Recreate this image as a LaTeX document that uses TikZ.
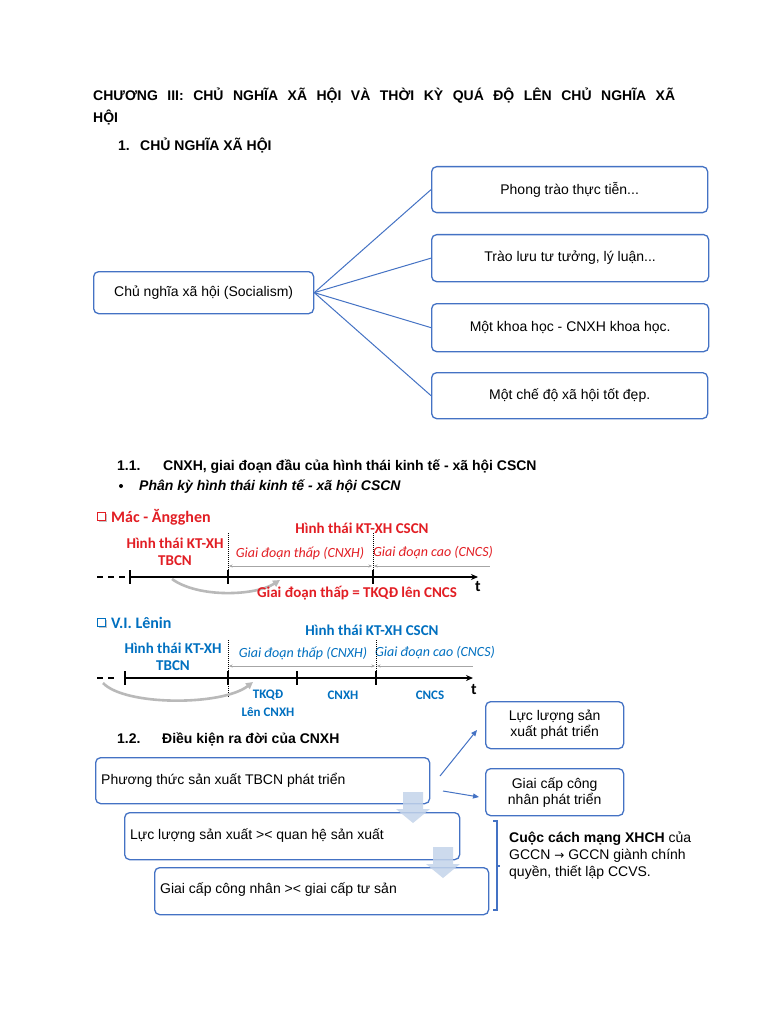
\documentclass[tikz,border=0pt]{standalone}
\usepackage{fontspec}
\setmainfont{Liberation Sans}
\newfontfamily\calfont{Carlito}
\usetikzlibrary{arrows.meta}
\definecolor{boxblue}{RGB}{68,114,196}
\definecolor{tred}{RGB}{226,30,36}
\definecolor{tblue}{RGB}{0,112,192}
\definecolor{arrowfill}{RGB}{196,212,234}
\newcommand{\fs}[1]{\fontsize{#1}{#1}\selectfont}
\newcommand{\fsl}[2]{\fontsize{#1}{#2}\selectfont}
\begin{document}
\begin{tikzpicture}[x=1pt,y=-1pt,
  box/.style={draw=boxblue, line width=1.3pt, rounded corners=5pt, inner sep=0pt, anchor=north west, align=center, font=\fs{14}},
  conn/.style={draw=boxblue, line width=1pt},
  arr/.style={draw=boxblue, line width=1pt, -{Triangle[length=6pt,width=5pt]}},
  head/.style={anchor=base west, font=\bfseries\fs{14}},
  body/.style={inner sep=0pt, font=\fs{14}},
  tl/.style={inner sep=0pt, font=\calfont\bfseries\fs{15}},
  tli/.style={inner sep=0pt, font=\calfont\itshape\fs{14}},
  tls/.style={inner sep=0pt, font=\calfont\bfseries\fs{13}, text=tblue},
  axis/.style={line width=1.8pt, black},
  tick/.style={line width=1.8pt, black},
  vdot/.style={line width=0.6pt, black, dash pattern=on 1pt off 1pt},
  gline/.style={line width=0.9pt, gray!70},
  curv/.style={line width=2.6pt, gray!55, -{Triangle[length=7pt,width=7pt]}},
  barrow/.style={fill=arrowfill, fill opacity=0.85, draw=none}
]
\useasboundingbox[fill=white] (0,0) rectangle (768,1024);

% ---------- Title ----------
\node[head, inner sep=0pt] (title1) at (93,101) {\makebox[582pt][s]{CHƯƠNG III: CHỦ NGHĨA XÃ HỘI VÀ THỜI KỲ QUÁ ĐỘ LÊN CHỦ NGHĨA XÃ}};
\node[head, inner sep=0pt] (title2) at (93,123) {HỘI};
\node[head, inner sep=0pt] (h1n) at (118,151) {1.};
\node[head, inner sep=0pt] (h1) at (140,151) {CHỦ NGHĨA XÃ HỘI};

% ---------- Section 1 diagram ----------
\node[box, minimum width=220pt, minimum height=42pt] (soc) at (93,271) {Chủ nghĩa xã hội (Socialism)};
\node[box, minimum width=276pt, minimum height=46pt] (r1) at (431,166) {Phong trào thực tiễn...};
\node[box, minimum width=277pt, minimum height=47pt] (r2) at (431,234) {Trào lưu tư tưởng, lý luận...};
\node[box, minimum width=277pt, minimum height=48pt] (r3) at (431,303) {Một khoa học - CNXH khoa học.};
\node[box, minimum width=276pt, minimum height=46pt] (r4) at (431,372) {Một chế độ xã hội tốt đẹp.};
\foreach \r in {r1,r2,r3,r4} \draw[conn] (soc.east) -- (\r.west);

% ---------- 1.1 ----------
\node[head, inner sep=0pt] (h11n) at (117,470) {1.1.};
\node[head, inner sep=0pt] (h11) at (163,470) {CNXH, giai đoạn đầu của hình thái kinh tế - xã hội CSCN};
\fill (121,486) circle (2pt);
\node[head, inner sep=0pt, font=\bfseries\itshape\fs{14}] (bul) at (139,490) {Phân kỳ hình thái kinh tế - xã hội CSCN};

% ---------- Timeline 1 : Mac - Angghen ----------
\fill[gray!45] (99,514) rectangle (107,522);
\draw[tred, line width=0.9pt, fill=white] (97,512) rectangle (105,520);
\node[tl, anchor=base west, text=tred, font=\calfont\bfseries\fs{16}] (mac) at (111,522) {Mác - Ăngghen};
\node[tl, text=tred] (cscn1) at (362,528) {Hình thái KT-XH CSCN};
\node[tl, text=tred, align=center] (tbcn1) at (175,552) {Hình thái KT-XH\\[2pt]TBCN};
\node[tli, text=tred] (gdt1) at (300,553) {Giai đoạn thấp (CNXH)};
\node[tli, text=tred] (gdc1) at (433,553) {Giai đoạn cao (CNCS)};
\draw[vdot] (228,533) -- (228,582);
\draw[vdot] (373,533) -- (373,582);
\draw[gline, {Stealth[length=3.5pt,width=3pt]}-{Stealth[length=3.5pt,width=3pt]}] (229,566) -- (372,566);
\draw[gline, {Stealth[length=3.5pt,width=3pt]}-] (374,566) -- (490,566);
\draw[axis, dash pattern=on 6pt off 5pt] (97,577) -- (126,577);
\draw[axis, -{Stealth[length=7pt,width=6pt]}] (130,577) -- (478,577);
\foreach \x in {130,228,373} \draw[tick] (\x,570) -- (\x,584);
\node[tl, font=\calfont\bfseries\fs{16}] (t1) at (478,587) {t};
\draw[curv] (172,579) .. controls (198,598) and (255,596) .. (280,580);
\node[tl, text=tred] (eq1) at (357,593) {Giai đoạn thấp = TKQĐ lên CNCS};

% ---------- Timeline 2 : Lenin ----------
\fill[gray!45] (99,620) rectangle (107,628);
\draw[tblue, line width=0.9pt, fill=white] (97,618) rectangle (105,626);
\node[tl, anchor=base west, text=tblue, font=\calfont\bfseries\fs{16}] (len) at (111,628) {V.I. Lênin};
\node[tl, text=tblue] (cscn2) at (372,630) {Hình thái KT-XH CSCN};
\node[tl, text=tblue, align=center] (tbcn2) at (173,657) {Hình thái KT-XH\\[2pt]TBCN};
\node[tli, text=tblue] (gdt2) at (303,653) {Giai đoạn thấp (CNXH)};
\node[tli, text=tblue] (gdc2) at (435,653) {Giai đoạn cao (CNCS)};
\draw[vdot] (228,640) -- (228,697);
\draw[vdot] (376,640) -- (376,682);
\draw[gline, {Stealth[length=3.5pt,width=3pt]}-{Stealth[length=3.5pt,width=3pt]}] (229,666) -- (375,666);
\draw[gline, {Stealth[length=3.5pt,width=3pt]}-] (377,666) -- (473,666);
\draw[axis, dash pattern=on 6pt off 5pt] (97,678) -- (118,678);
\draw[axis, -{Stealth[length=7pt,width=6pt]}] (125,678) -- (473,678);
\foreach \x in {125,228,297,376} \draw[tick] (\x,671) -- (\x,685);
\node[tl, font=\calfont\bfseries\fs{16}] (t2) at (474,690) {t};
\draw[curv] (103,683) .. controls (125,706) and (222,706) .. (253,682);
\node[tls] (tkqd) at (268,695) {TKQĐ};
\node[tls] (lcnxh) at (268,712) {Lên CNXH};
\node[tls] (cnxh) at (343,695) {CNXH};
\node[tls] (cncs) at (430,695) {CNCS};

% ---------- 1.2 ----------
\node[head, inner sep=0pt] (h12n) at (117,743) {1.2.};
\node[head, inner sep=0pt] (h12) at (162,743) {Điều kiện ra đời của CNXH};

\node[box, minimum width=334pt, minimum height=46pt] (b1) at (95,757) {};
\node[body, anchor=base west] (b1t) at (101,784) {Phương thức sản xuất TBCN phát triển};
\node[box, minimum width=335pt, minimum height=47pt] (b2) at (124,812) {};
\node[body, anchor=base west] (b2t) at (130,839) {Lực lượng sản xuất >< quan hệ sản xuất};
\node[box, minimum width=334pt, minimum height=47pt] (b3) at (154,867) {};
\node[body, anchor=base west] (b3t) at (160,893) {Giai cấp công nhân >< giai cấp tư sản};

% block arrows
\fill[barrow] (403,792) -- (423,792) -- (423,809) -- (430,809) -- (413,823) -- (396,809) -- (403,809) -- cycle;
\fill[barrow] (433,847) -- (453,847) -- (453,864) -- (460,864) -- (443,878) -- (426,864) -- (433,864) -- cycle;

\node[box, minimum width=138pt, minimum height=47pt, font=\fsl{14}{16}] (ra) at (485,701) {Lực lượng sản\\xuất phát triển};
\node[box, minimum width=138pt, minimum height=47pt, font=\fsl{14}{16}] (rb) at (485,768) {Giai cấp công\\nhân phát triển};
\coordinate (a1s) at (440,776);
\coordinate (a1e) at (477,730);
\coordinate (a2s) at (443,791);
\coordinate (a2e) at (479,797);
\draw[arr] (a1s) -- (a1e);
\draw[arr] (a2s) -- (a2e);

% bracket
\draw[boxblue, line width=1.1pt] (493,821) -- (497,821) -- (497,910) -- (493,910);
\draw[boxblue, line width=1.1pt] (497,866) -- (500,866);
\node[body, anchor=north west, align=left, font=\fsl{14}{17}] (rev) at (509,832) {\textbf{Cuộc cách mạng XHCH} của\\GCCN {\fontspec{DejaVu Sans}\fs{12}→} GCCN giành chính\\quyền, thiết lập CCVS.};
\end{tikzpicture}
\end{document}
